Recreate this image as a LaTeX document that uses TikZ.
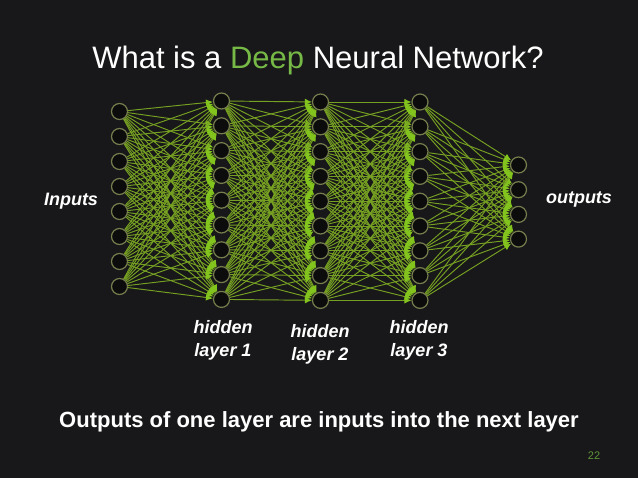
\documentclass[tikz,border=0pt]{standalone}
\usepackage{fontspec}
\setmainfont{Liberation Sans}
\usetikzlibrary{arrows.meta}
\definecolor{bgcol}{RGB}{24,23,25}
\definecolor{nodeedge}{RGB}{118,126,78}
\definecolor{nodefill}{RGB}{12,12,12}
\definecolor{linkcol}{RGB}{118,160,34}
\definecolor{tipcol}{RGB}{130,195,30}
\definecolor{deepgreen}{RGB}{118,185,70}
\definecolor{pagegreen}{RGB}{95,150,55}
\pgfdeclarelayer{bg}
\pgfdeclarelayer{edges}
\pgfsetlayers{bg,edges,main}
\begin{document}
\begin{tikzpicture}[x=1pt,y=-1pt,
  neuron/.style={circle,draw=nodeedge,fill=nodefill,line width=1.2pt,minimum size=16pt,inner sep=0pt},
  link/.style={draw=linkcol,line width=0.95pt,-{Latex[length=7pt,width=6.5pt,color=tipcol]}},
  lbl/.style={text=white,font=\fontsize{18}{23}\selectfont\bfseries\itshape,align=center,inner sep=0pt},
  title/.style={text=white,font=\fontsize{31}{36}\selectfont,inner sep=0pt,anchor=base}]
\begin{pgfonlayer}{bg}
\fill[bgcol] (0,0) rectangle (638,478);
\end{pgfonlayer}
\useasboundingbox (0,0) rectangle (638,478);
% layers
\foreach \k in {1,...,8} \node[neuron] (i\k) at (119.5,{111.5+25*(\k-1)}) {};
\foreach \k in {1,...,9} \node[neuron] (a\k) at (221.5,{101+24.8*(\k-1)}) {};
\foreach \k in {1,...,9} \node[neuron] (b\k) at (320.5,{102+24.8*(\k-1)}) {};
\foreach \k in {1,...,9} \node[neuron] (c\k) at (420,{102+24.8*(\k-1)}) {};
\foreach \k in {1,...,4} \node[neuron] (o\k) at (518.5,{165+24.7*(\k-1)}) {};
\begin{pgfonlayer}{edges}
\foreach \s in {1,...,8} \foreach \t in {1,...,9} \draw[link] (i\s) -- (a\t);
\foreach \s in {1,...,9} \foreach \t in {1,...,9} \draw[link] (a\s) -- (b\t);
\foreach \s in {1,...,9} \foreach \t in {1,...,9} \draw[link] (b\s) -- (c\t);
\foreach \s in {1,...,9} \foreach \t in {1,...,4} \draw[link] (c\s) -- (o\t);
\end{pgfonlayer}
% texts
\node[title] (ttl) at (318,69) {What is a \textcolor{deepgreen}{Deep} Neural Network?};
\node[lbl] (lin) at (71,201) {Inputs};
\node[lbl] (lout) at (579,199) {outputs};
\node[lbl] (h1) at (223,340) {hidden\\layer 1};
\node[lbl] (h2) at (320,344) {hidden\\layer 2};
\node[lbl] (h3) at (419,340) {hidden\\layer 3};
\node[text=white,font=\fontsize{22}{26}\selectfont\bfseries,inner sep=0pt,anchor=base] (bot) at (319,428) {Outputs of one layer are inputs into the next layer};
\node[text=pagegreen,font=\fontsize{11}{13}\selectfont,inner sep=0pt] (pg) at (594,456) {22};
\end{tikzpicture}
\end{document}
